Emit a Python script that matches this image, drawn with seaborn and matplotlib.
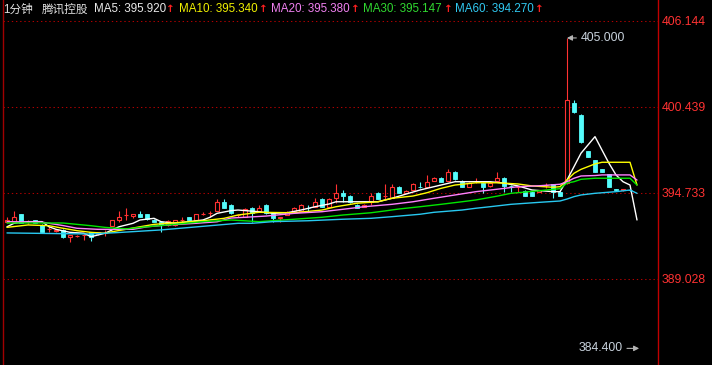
import numpy as np
import pandas as pd
import matplotlib
matplotlib.use("Agg")
import matplotlib.pyplot as plt
import seaborn as sns

# ---------------- data ----------------
opens = [392.79, 392.79, 393.32, 392.78, 392.92, 392.59, 392.30, 392.18, 392.26, 391.79,
         391.85, 391.90, 392.12, 391.99, 392.05, 392.52, 392.92, 393.22, 393.19, 393.32,
         393.32, 392.92, 392.79, 392.59, 392.59, 392.90, 393.12, 392.92, 393.30, 393.36,
         393.52, 394.11, 393.92, 393.24, 393.12, 393.72, 393.52, 393.92, 393.38, 393.05,
         393.25, 393.52, 393.52, 393.73, 393.78, 394.31, 393.78, 394.38, 394.71, 394.51,
         393.92, 393.78, 394.11, 394.71, 394.50, 394.38, 395.11, 394.71, 394.91, 395.12,
         395.11, 395.51, 395.71, 395.51, 396.10, 395.51, 395.11, 395.49, 395.37, 395.17,
         395.51, 395.71, 395.19, 395.10, 394.84, 394.78, 394.78, 395.22, 395.31, 394.78,
         395.37, 400.68, 399.88, 397.49, 396.90, 396.30, 395.97, 394.95, 394.88, 394.92]
highs = [393.12, 393.52, 393.35, 392.95, 392.95, 392.65, 392.52, 392.35, 392.30, 391.95,
         391.95, 392.00, 392.15, 392.15, 392.25, 392.95, 393.52, 393.72, 393.35, 393.52,
         393.35, 392.99, 392.82, 392.90, 392.95, 393.12, 393.15, 393.35, 393.42, 393.52,
         394.31, 394.31, 393.95, 393.35, 393.70, 393.75, 393.92, 393.95, 393.42, 393.15,
         393.50, 393.75, 393.95, 393.92, 394.38, 394.35, 394.35, 395.31, 394.91, 394.55,
         393.95, 393.95, 394.71, 394.75, 395.31, 395.31, 395.15, 394.88, 395.35, 395.44,
         395.91, 395.75, 395.75, 396.30, 396.15, 395.55, 395.41, 395.71, 395.41, 395.41,
         396.10, 395.75, 395.22, 395.18, 394.88, 394.82, 394.94, 395.37, 395.34, 394.82,
         405.00, 400.88, 399.92, 397.52, 396.93, 396.32, 396.00, 394.97, 394.97, 394.95]
lows = [392.75, 392.75, 392.70, 392.68, 392.70, 392.10, 392.12, 392.12, 391.75, 391.46,
        391.78, 391.59, 391.52, 391.95, 391.86, 392.50, 392.79, 392.92, 393.05, 393.10,
        392.95, 392.76, 392.12, 392.55, 392.55, 392.79, 392.90, 392.90, 393.22, 393.12,
        393.50, 393.70, 393.35, 393.15, 393.10, 392.79, 393.50, 393.35, 392.79, 392.79,
        393.22, 393.50, 393.50, 393.45, 393.75, 393.75, 393.75, 394.05, 394.11, 394.08,
        393.70, 393.75, 393.92, 394.28, 394.31, 394.35, 394.68, 394.68, 394.88, 395.04,
        395.08, 395.48, 395.41, 395.48, 395.60, 395.08, 395.08, 395.37, 394.71, 395.14,
        395.48, 394.78, 394.78, 394.78, 394.48, 394.48, 394.75, 395.04, 394.38, 394.48,
        395.30, 400.05, 398.05, 397.08, 396.08, 396.08, 395.08, 394.86, 394.86, 394.86]
closes = [392.92, 393.12, 392.72, 392.80, 392.72, 392.12, 392.33, 392.25, 391.79, 391.92,
          391.88, 391.93, 391.79, 392.12, 392.08, 392.92, 393.12, 393.25, 393.32, 393.12,
          392.99, 392.79, 392.59, 392.85, 392.92, 392.93, 392.92, 393.32, 393.33, 393.39,
          394.11, 393.72, 393.38, 393.27, 393.65, 393.38, 393.72, 393.38, 393.05, 393.12,
          393.45, 393.72, 393.92, 393.70, 394.11, 393.78, 394.31, 394.71, 394.51, 394.11,
          393.72, 393.92, 394.51, 394.31, 394.53, 395.11, 394.71, 394.84, 395.31, 395.09,
          395.44, 395.71, 395.44, 396.10, 395.64, 395.11, 395.37, 395.52, 395.11, 395.37,
          395.71, 395.17, 395.16, 395.13, 394.51, 394.51, 394.91, 395.25, 394.78, 394.51,
          400.88, 400.08, 398.09, 397.10, 396.10, 396.10, 395.11, 394.88, 394.95, 394.90]

ma5_idx = [0, 1, 3, 5, 6, 7, 9, 11, 12, 14, 15, 16, 18, 19, 21, 22, 24, 26, 28, 29,
           30, 32, 33, 36, 38, 40, 42, 44, 46, 47, 51, 53, 55, 57, 59, 62, 64, 69, 71, 73,
           75, 78, 79, 80, 81, 82, 83, 84, 85, 86, 87, 88, 89, 90]
ma5 = [392.47, 392.70, 392.81, 392.81, 392.47, 392.30, 392.10, 392.04, 391.81, 392.04,
       392.26, 392.47, 392.70, 392.92, 393.03, 392.81, 392.70, 392.81, 392.92, 393.10,
       393.36, 393.54, 393.58, 393.47, 393.36, 393.40, 393.58, 393.80, 393.98, 394.13,
       394.13, 394.13, 394.36, 394.64, 394.91, 395.24, 395.46, 395.46, 395.37, 395.18,
       394.91, 394.80, 394.80, 395.57, 396.46, 397.35, 397.90, 398.45, 397.56, 396.68,
       395.91, 395.46, 395.24, 392.92]

ma10_idx = [0, 3, 6, 8, 10, 12, 14, 15, 17, 19, 21, 25, 28, 31, 33, 36, 41, 45, 47, 50,
            53, 55, 58, 60, 62, 64, 67, 70, 73, 75, 78, 79, 80, 81, 82, 83, 84, 85, 89, 90]
ma10 = [392.43, 392.59, 392.54, 392.37, 392.21, 392.10, 392.04, 392.14, 392.30, 392.47,
        392.63, 392.77, 392.87, 393.03, 393.25, 393.43, 393.40, 393.58, 393.80, 394.03,
        394.13, 394.36, 394.51, 394.73, 395.02, 395.24, 395.39, 395.39, 395.31, 395.18,
        395.09, 395.13, 395.57, 396.02, 396.28, 396.46, 396.64, 396.75, 396.75, 395.24]

ma20_idx = [0, 5, 6, 8, 10, 13, 18, 20, 23, 27, 30, 32, 34, 37, 41, 45, 48, 51, 55, 58,
            61, 64, 67, 70, 73, 76, 79, 80, 81, 82, 84, 85, 89, 90]
ma20 = [392.81, 392.78, 392.70, 392.55, 392.37, 392.30, 392.30, 392.47, 392.59, 392.70,
        392.80, 393.05, 393.10, 393.18, 393.36, 393.47, 393.63, 393.80, 393.96, 394.13,
        394.36, 394.58, 394.80, 394.96, 395.13, 395.19, 395.29, 395.46, 395.69, 395.84,
        395.87, 395.91, 395.91, 395.57]

ma30_idx = [0, 8, 10, 12, 14, 17, 20, 24, 28, 32, 36, 41, 45, 48, 52, 54, 56, 59, 62, 65,
            67, 70, 72, 76, 79, 80, 81, 82, 84, 89, 90]
ma30 = [392.72, 392.72, 392.63, 392.54, 392.43, 392.33, 392.47, 392.63, 392.81, 392.92,
        392.81, 392.97, 393.10, 393.25, 393.40, 393.52, 393.65, 393.80, 393.96, 394.13,
        394.25, 394.50, 394.69, 394.86, 395.00, 395.37, 395.46, 395.62, 395.69, 395.69,
        395.24]

ma60_idx = [0, 12, 16, 22, 27, 33, 35, 38, 43, 48, 52, 55, 59, 61, 65, 67, 69, 72, 76, 79,
            80, 81, 82, 84, 87, 89, 90]
ma60 = [392.06, 391.99, 392.09, 392.26, 392.46, 392.70, 392.70, 392.81, 392.87, 392.97,
        393.03, 393.14, 393.30, 393.43, 393.58, 393.70, 393.80, 393.96, 394.09, 394.18,
        394.31, 394.47, 394.58, 394.69, 394.80, 394.91, 394.69]

y_ticks = [406.144, 400.439, 394.733, 389.028]
y_tick_labels = ["406.144", "400.439", "394.733", "389.028"]
high_idx, high_val, high_label = 80, 405.000, "405.000"
low_idx, low_val, low_label = 90, 384.400, "384.400"

title_parts = ["1分钟", "腾讯控股"]
header_names = ["MA5", "MA10", "MA20", "MA30", "MA60"]
header_values = [395.920, 395.340, 395.380, 395.147, 394.270]

# ---------------- style ----------------
RED = "#FF3232"
CYAN = "#54FCFC"
ma_colors = ["#FFFFFF", "#FFFF00", "#FF80FF", "#00E600", "#28C8F0"]
hdr_colors = ["#E8E8E8", "#F0F000", "#F080F0", "#30D830", "#30C8F0"]

sns.set_theme(style="dark", rc={"axes.facecolor": "black", "figure.facecolor": "black"})
plt.rcParams["font.family"] = ["Liberation Sans", "Noto Sans CJK SC", "DejaVu Sans"]

W, H = 712, 365
fig = plt.figure(figsize=(W / 100, H / 100), dpi=100)
fig.patch.set_facecolor("black")
ax = fig.add_axes([3 / W, 0, 655 / W, 1])
ax.set_facecolor("black")

o = np.array(opens); h = np.array(highs); l = np.array(lows); c = np.array(closes)
x = np.arange(len(o))
up = c >= o
col = np.where(up, RED, CYAN)

# wicks
ax.vlines(x, l, h, colors=list(col), linewidth=0.8, zorder=2)
# bodies
bottom = np.minimum(o, c)
height = np.maximum(np.abs(c - o), 0.02)
ax.bar(x[up], height[up], bottom=bottom[up], width=0.62, facecolor="black",
       edgecolor=RED, linewidth=0.8, zorder=3)
ax.bar(x[~up], height[~up], bottom=bottom[~up], width=0.62, facecolor=CYAN,
       edgecolor=CYAN, linewidth=0.6, zorder=3)

# moving averages
ma_sets = [(ma5_idx, ma5), (ma10_idx, ma10), (ma20_idx, ma20), (ma30_idx, ma30), (ma60_idx, ma60)]
for (idx, vals), colr in zip(ma_sets, ma_colors):
    df = pd.DataFrame({"i": idx, "v": vals})
    sns.lineplot(data=df, x="i", y="v", ax=ax, color=colr, linewidth=1.0,
                 legend=False, zorder=4, sort=True)

ax.set_xlabel("")
ax.set_ylabel("")
ax.set_xlim(-0.571, 93.0)
ax.set_ylim(383.297, 407.518)
ax.set_xticks([])
ax.set_yticks(y_ticks)
ax.set_yticklabels(y_tick_labels)
ax.yaxis.tick_right()
ax.tick_params(axis="y", length=0, pad=2.5, labelsize=8.8, labelcolor=RED)
ax.grid(False)
ax.yaxis.grid(True, color="#B00000", linestyle=(0, (1.3, 2.7)), linewidth=0.75)
ax.set_axisbelow(True)
for s in ["top", "bottom"]:
    ax.spines[s].set_visible(False)
ax.spines["left"].set_color("#A00000")
ax.spines["left"].set_linewidth(1.0)
ax.spines["right"].set_color("#C00000")
ax.spines["right"].set_linewidth(1.0)

# high / low markers
ax.annotate(high_label, xy=(high_idx, high_val), xytext=(82.0, high_val),
            textcoords="data", ha="left", va="center", color="#C8D2DC", fontsize=8.8,
            arrowprops=dict(arrowstyle="-|>,head_length=0.35,head_width=0.18",
                            color="#B4B4B4", lw=0.8, shrinkA=1, shrinkB=0), zorder=6)
ax.annotate(low_label, xy=(low_idx + 0.3, low_val), xytext=(87.9, low_val),
            textcoords="data", ha="right", va="center", color="#C8D2DC", fontsize=8.8,
            arrowprops=dict(arrowstyle="-|>,head_length=0.35,head_width=0.18",
                            color="#B4B4B4", lw=0.8, shrinkA=1, shrinkB=0), zorder=6)

# header
ty = 1 - 9.5 / H
fig.text(3 / W, ty, title_parts[0], color="#E0E0E0", fontsize=8.4, va="center", ha="left")
fig.text(41.5 / W, ty, title_parts[1], color="#E0E0E0", fontsize=8.4, va="center", ha="left")
hdr_x = [94.3, 179.3, 271.0, 363.3, 455.0]
arr_x = [166.0, 259.0, 351.0, 444.0, 535.0]
for name, val, colr, tx, axp in zip(header_names, header_values, hdr_colors, hdr_x, arr_x):
    fig.text(tx / W, ty, f"{name}: {val:.3f}", color=colr, fontsize=8.4, va="center", ha="left")
    fig.text(axp / W, ty, "↑", color="#FF2020", fontsize=7.5, va="center", ha="left",
             fontweight="bold", family=["DejaVu Sans"])

fig.savefig("out.png", dpi=100, facecolor="black")
